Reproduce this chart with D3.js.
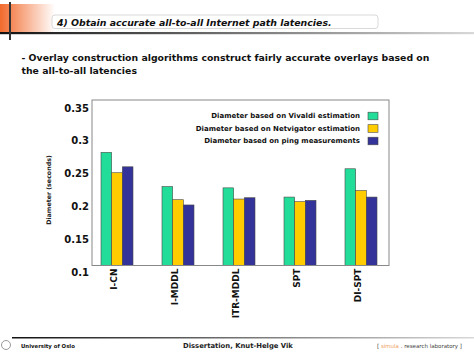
<!DOCTYPE html>
<html>
<head>
<meta charset="utf-8">
<script src="https://cdn.jsdelivr.net/npm/d3@7/dist/d3.min.js"></script>
<style>
  html, body { margin: 0; padding: 0; background: #fff; }
  svg { display: block; }
  text { font-family: "DejaVu Sans", Verdana, sans-serif; }
</style>
</head>
<body>
<svg id="chart" width="474" height="355"></svg>
<script>
// ---- data ----
const categories = ["I-CN", "I-MDDL", "ITR-MDDL", "SPT", "DI-SPT"];
const seriesNames = [
  "Diameter based on Vivaldi estimation",
  "Diameter based on Netvigator estimation",
  "Diameter based on ping measurements"
];
const vivaldi    = [0.272, 0.220, 0.218, 0.204, 0.247];
const netvigator = [0.241, 0.200, 0.201, 0.197, 0.214];
const ping       = [0.250, 0.192, 0.203, 0.199, 0.204];
const yTicks = [0.1, 0.15, 0.2, 0.25, 0.3, 0.35];
const yTickLabels = ["0.1", "0.15", "0.2", "0.25", "0.3", "0.35"];
const colors = ["#22DD99", "#FFCC00", "#333399"];

const seriesValues = [vivaldi, netvigator, ping];

const svg = d3.select("#chart");

function fitText(sel, targetWidth) {
  const node = sel.node();
  const fs = parseFloat(sel.attr("font-size"));
  const w = node.getComputedTextLength();
  if (w > 0) sel.attr("font-size", (fs * targetWidth / w).toFixed(2));
  return sel;
}

// ---- slide decoration ----
const defs = svg.append("defs");
const og = defs.append("linearGradient").attr("id", "orangeGrad");
og.append("stop").attr("offset", "0%").attr("stop-color", "#f26a2c");
og.append("stop").attr("offset", "100%").attr("stop-color", "#ffffff");
const lg = defs.append("linearGradient").attr("id", "lineGrad");
lg.append("stop").attr("offset", "0%").attr("stop-color", "#111111");
lg.append("stop").attr("offset", "100%").attr("stop-color", "#d8d8d8");

svg.append("rect").attr("x", 0).attr("y", 4).attr("width", 55).attr("height", 29)
  .attr("fill", "url(#orangeGrad)");
svg.append("rect").attr("x", 0).attr("y", 32).attr("width", 474).attr("height", 2.2)
  .attr("fill", "url(#lineGrad)");
svg.append("rect").attr("x", 9).attr("y", 2).attr("width", 2).attr("height", 38)
  .attr("fill", "#333");

svg.append("rect").attr("x", 52).attr("y", 15).attr("width", 326).attr("height", 13.5)
  .attr("rx", 3).attr("fill", "#fff").attr("stroke", "#cfcfcf").attr("stroke-width", 0.8);
fitText(svg.append("text").attr("x", 57).attr("y", 25.5)
  .attr("font-size", 10).attr("font-weight", "bold").attr("font-style", "italic")
  .attr("fill", "#111")
  .text("4) Obtain accurate all-to-all Internet path latencies."), 275);

const bullet1 = fitText(svg.append("text").attr("x", 21.5).attr("y", 61)
  .attr("font-size", 10).attr("font-weight", "bold").attr("fill", "#111")
  .text("- Overlay construction algorithms construct fairly accurate overlays based on"), 408);
svg.append("text").attr("x", 21.5).attr("y", 74)
  .attr("font-size", bullet1.attr("font-size"))
  .attr("font-weight", "bold").attr("fill", "#111")
  .text("the all-to-all latencies");

// footer
svg.append("rect").attr("x", 12).attr("y", 337).attr("width", 462).attr("height", 1.5)
  .attr("fill", "url(#lineGrad)");
svg.append("circle").attr("cx", 6).attr("cy", 345).attr("r", 4.5)
  .attr("fill", "none").attr("stroke", "#999").attr("stroke-width", 1);
fitText(svg.append("text").attr("x", 21).attr("y", 347.5)
  .attr("font-size", 7).attr("font-weight", "bold").attr("fill", "#111")
  .text("University of Oslo"), 54);
fitText(svg.append("text").attr("x", 183).attr("y", 347.5)
  .attr("font-size", 6).attr("font-weight", "bold").attr("fill", "#222")
  .text("Dissertation, Knut-Helge Vik"), 110);
const sim = svg.append("text").attr("x", 377).attr("y", 347.5)
  .attr("font-size", 6).attr("fill", "#444");
sim.append("tspan").text("[ ");
sim.append("tspan").attr("fill", "#f0a060").text("simula");
sim.append("tspan").text(" . research laboratory ]");
fitText(sim, 85);

// ---- chart ----
const plot = { left: 92, right: 389, top: 100, bottom: 265.5 };

const y = d3.scaleLinear().domain([0.1, 0.35]).range([plot.bottom, 101]);
const x = d3.scalePoint().domain(categories).range([117, 361]);
const xSub = d3.scaleBand().domain(d3.range(seriesNames.length)).range([-16, 16]).paddingInner(0);

const g = svg.append("g");

// bars
categories.forEach((c, ci) => {
  seriesValues.forEach((vals, si) => {
    g.append("rect")
      .attr("x", x(c) + xSub(si))
      .attr("y", y(vals[ci]))
      .attr("width", xSub.bandwidth())
      .attr("height", y(0.1) - y(vals[ci]))
      .attr("fill", colors[si])
      .attr("stroke", "#4a4a4a")
      .attr("stroke-width", 0.6);
  });
});

// frame
g.append("rect").attr("x", plot.left).attr("y", plot.top)
  .attr("width", plot.right - plot.left).attr("height", plot.bottom - plot.top)
  .attr("fill", "none").attr("stroke", "#888").attr("stroke-width", 1);

// y axis (labels only)
const yAxis = d3.axisLeft(y).tickValues(yTicks)
  .tickFormat((d, i) => yTickLabels[i]).tickSize(0).tickPadding(3);
const ya = g.append("g").attr("transform", `translate(${plot.left},0)`).call(yAxis);
ya.select(".domain").remove();
ya.selectAll("text").attr("font-size", 10).attr("font-weight", "bold")
  .attr("fill", "#111").attr("dy", "1.0em")
  .style("font-family", '"DejaVu Sans", Verdana, sans-serif');

// x axis labels
const xAxis = d3.axisBottom(x).tickSize(0).tickPadding(0);
const xa = g.append("g").attr("transform", `translate(0,${plot.bottom})`).call(xAxis);
xa.select(".domain").remove();
xa.selectAll("text")
  .attr("transform", "rotate(-90)")
  .attr("text-anchor", "end")
  .attr("x", -3).attr("y", -4).attr("dy", "0.35em")
  .attr("font-size", 9).attr("font-weight", "bold").attr("fill", "#111")
  .style("font-family", '"DejaVu Sans", Verdana, sans-serif');

// y title
g.append("text")
  .attr("transform", "translate(51,190) rotate(-90)")
  .attr("text-anchor", "middle")
  .attr("font-size", 6.3).attr("font-weight", "bold").attr("fill", "#222")
  .text("Diameter (seconds)");

// legend
const legendY = [116, 128.5, 141];
seriesNames.forEach((name, i) => {
  g.append("text").attr("x", 360).attr("y", legendY[i]).attr("dy", "0.35em")
    .attr("text-anchor", "end").attr("font-size", 7).attr("font-weight", "bold")
    .attr("fill", "#111").text(name);
  g.append("rect").attr("x", 368).attr("y", legendY[i] - 3.8).attr("width", 10).attr("height", 7.6)
    .attr("fill", colors[i]).attr("stroke", "#4a4a4a").attr("stroke-width", 0.6);
});
</script>
</body>
</html>
